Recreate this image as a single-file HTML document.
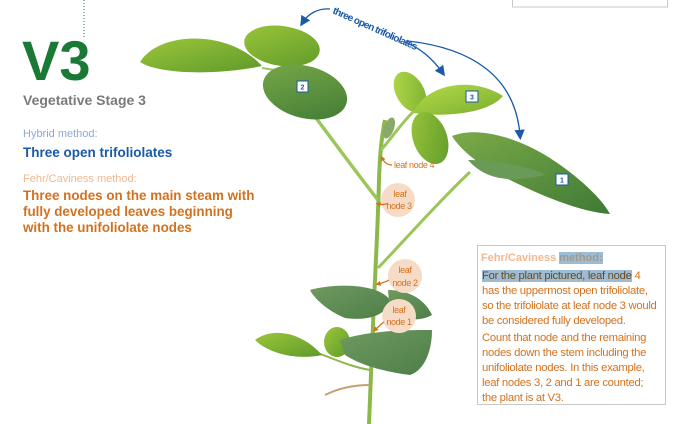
<!DOCTYPE html>
<html><head><meta charset="utf-8"><style>
html,body{margin:0;padding:0;background:#fff;}
body{width:683px;height:424px;position:relative;overflow:hidden;font-family:"Liberation Sans",sans-serif;}
.t{position:absolute;white-space:nowrap;}
.box{position:absolute;left:477px;top:245px;width:189px;height:160px;border:1px solid #c8c8c8;box-sizing:border-box;}
.bx{position:absolute;left:482px;font-size:11.3px;color:#d2721e;letter-spacing:-0.3px;white-space:nowrap;}
</style></head><body>
<svg width="683" height="424" style="position:absolute;left:0;top:0">
<defs>
<linearGradient id="g1" x1="0" y1="0" x2="1" y2="1"><stop offset="0" stop-color="#9cc63a"/><stop offset="1" stop-color="#5e9a2a"/></linearGradient>
<linearGradient id="g2" x1="0" y1="0" x2="1" y2="1"><stop offset="0" stop-color="#7aaa48"/><stop offset="1" stop-color="#3f7a35"/></linearGradient>
<linearGradient id="g3" x1="0" y1="0" x2="1" y2="1"><stop offset="0" stop-color="#b6dc4a"/><stop offset="1" stop-color="#79ad2e"/></linearGradient>
<linearGradient id="g4" x1="0" y1="0" x2="1" y2="1"><stop offset="0" stop-color="#6f9a60"/><stop offset="1" stop-color="#4e7e48"/></linearGradient>
<marker id="ab" markerWidth="8" markerHeight="8" refX="4" refY="4" orient="auto"><path d="M0,0 L8,4 L0,8 Z" fill="#1a5aa8"/></marker>
<marker id="ao" markerWidth="4" markerHeight="4" refX="2" refY="2" orient="auto"><path d="M0,0 L4,2 L0,4 Z" fill="#d2721e"/></marker>
</defs>
<line x1="84" y1="0" x2="84" y2="37" stroke="#1a7a35" stroke-width="1" stroke-dasharray="1,2"/>
<rect x="512.5" y="-5" width="155" height="12" fill="none" stroke="#c8c8c8"/>
<path d="M369,424 C371,380 372,340 374,300 C376,260 378,220 379,180 C380,150 382,135 385,120" stroke="#8cb84a" stroke-width="4" fill="none"/>
<path d="M316,118 C340,150 362,180 378,200" stroke="#9cc659" stroke-width="3.5" fill="none"/>
<path d="M470,172 C440,200 405,240 378,268" stroke="#9cc659" stroke-width="3" fill="none"/>
<path d="M413,112 C400,125 390,140 381,150" stroke="#9cc659" stroke-width="3" fill="none"/>
<path d="M262,68 L275,70" stroke="#9cc659" stroke-width="2"/>
<path d="M370,370 C340,365 320,350 300,350" stroke="#8cb84a" stroke-width="2" fill="none"/>
<path d="M370,385 C350,385 335,390 325,395" stroke="#c8a070" stroke-width="2" fill="none"/>
<path d="M140,62 C160,30 230,30 262,66 C220,75 160,75 140,62 Z" fill="url(#g1)"/>
<ellipse cx="282" cy="46" rx="38" ry="20" transform="rotate(8 282 46)" fill="url(#g1)"/>
<ellipse cx="305" cy="92" rx="43" ry="26" transform="rotate(15 305 92)" fill="url(#g2)"/>
<ellipse cx="410" cy="92" rx="14" ry="22" transform="rotate(-30 410 92)" fill="url(#g3)"/>
<path d="M413,113 C425,85 470,75 503,96 C490,112 450,118 413,113 Z" fill="url(#g3)"/>
<ellipse cx="430" cy="138" rx="17" ry="27" transform="rotate(-20 430 138)" fill="url(#g1)"/>
<ellipse cx="389" cy="128" rx="5" ry="11" transform="rotate(20 389 128)" fill="#8aa86a"/>
<path d="M452,136 C480,125 520,140 545,155 C570,170 600,195 610,214 C580,212 540,195 510,180 C485,170 460,150 452,136 Z" fill="url(#g2)"/>
<path d="M468,160 C500,160 540,170 545,175 C520,180 490,185 468,160 Z" fill="#6a9a58"/>
<path d="M310,290 C340,282 380,285 390,300 C385,320 360,320 345,318 C330,312 315,300 310,290 Z" fill="url(#g4)"/>
<path d="M388,290 C410,290 425,300 432,315 C420,322 400,320 390,315 Z" fill="url(#g4)"/>
<path d="M255,340 C270,328 300,330 322,355 C300,360 270,355 255,340 Z" fill="url(#g1)"/>
<ellipse cx="337" cy="342" rx="13" ry="15" fill="url(#g1)"/>
<path d="M340,340 C370,330 410,330 432,330 C432,350 425,370 410,375 C385,372 360,365 345,355 Z" fill="url(#g4)"/>
<path d="M330,9 C318,8 308,14 303,22" stroke="#1a5aa8" stroke-width="1.3" fill="none" marker-end="url(#ab)"/>
<path d="M405,42 C420,48 432,58 442,72" stroke="#1a5aa8" stroke-width="1.3" fill="none" marker-end="url(#ab)"/>
<path d="M408,41 C470,48 515,75 520,135" stroke="#1a5aa8" stroke-width="1.3" fill="none" marker-end="url(#ab)"/>
<text x="332" y="13" transform="rotate(24 332 13)" font-size="10" font-weight="bold" fill="#1a5aa8" letter-spacing="-0.7">three open trifoliolates</text>
<g font-size="7" font-weight="bold" fill="#1a5aa8" text-anchor="middle">
<rect x="297" y="81" width="11" height="11" fill="#fff" stroke="#1a5aa8"/><text x="302.5" y="89.5">2</text>
<rect x="466" y="91" width="12" height="11" fill="#fff" stroke="#1a5aa8"/><text x="472" y="99.5">3</text>
<rect x="556" y="174" width="12" height="11" fill="#fff" stroke="#1a5aa8"/><text x="562" y="182.5">1</text>
</g>
<circle cx="398" cy="200" r="17" fill="#f6dcc6"/>
<circle cx="405" cy="276" r="17" fill="#f6dcc6"/>
<circle cx="399" cy="316" r="17" fill="#f6dcc6"/>
<g font-size="9" fill="#d2721e" text-anchor="middle" letter-spacing="-0.4">
<text x="400" y="197">leaf</text><text x="399" y="209">node 3</text>
<text x="405" y="273">leaf</text><text x="405" y="286">node 2</text>
<text x="399" y="313">leaf</text><text x="399" y="325">node 1</text>
<text x="394" y="168" text-anchor="start">leaf node 4</text>
</g>
<path d="M392,165 C387,165 384,162 382,158" stroke="#d2721e" stroke-width="1.3" fill="none" marker-end="url(#ao)"/>
<path d="M388,203 C385,205 382,205 378,204" stroke="#d2721e" stroke-width="1.3" fill="none" marker-end="url(#ao)"/>
<path d="M389,280 C386,282 382,283 378,284" stroke="#d2721e" stroke-width="1.3" fill="none" marker-end="url(#ao)"/>
<path d="M384,322 C381,324 378,327 375,330" stroke="#d2721e" stroke-width="1.3" fill="none" marker-end="url(#ao)"/>
</svg>
<div class="t" style="left:22px;top:33px;font-size:56px;font-weight:bold;color:#1a7a35;line-height:56px;">V3</div>
<div class="t" style="left:23px;top:92px;font-size:14px;font-weight:bold;color:#7a7a7a;">Vegetative Stage 3</div>
<div class="t" style="left:23px;top:128px;font-size:11px;color:#8fa8d8;">Hybrid method:</div>
<div class="t" style="left:23px;top:145px;font-size:13.5px;font-weight:bold;color:#1a5aa8;">Three open trifoliolates</div>
<div class="t" style="left:23px;top:173px;font-size:11px;color:#f0b890;">Fehr/Caviness method:</div>
<div class="t" style="left:23px;top:188px;font-size:13.4px;font-weight:bold;color:#d2721e;line-height:16px;">Three nodes on the main steam with<br>fully developed leaves beginning<br>with the unifoliolate nodes</div>
<div class="box"></div>
<div class="t" style="left:481px;top:252px;font-size:11px;font-weight:bold;color:#f0b890;">Fehr/Caviness <span style="background:#9dbcd4;color:#a09a90;">method:</span></div>
<div class="bx" style="top:270px;"><span style="background:#9dbcd4;color:#6a4a20;">For the plant pictured, leaf node</span> 4</div>
<div class="bx" style="top:285px;">has the uppermost open trifoliolate,</div>
<div class="bx" style="top:300px;">so the trifoliolate at leaf node 3 would</div>
<div class="bx" style="top:315px;">be considered fully developed.</div>
<div class="bx" style="top:332px;">Count that node and the remaining</div>
<div class="bx" style="top:347px;">nodes down the stem including the</div>
<div class="bx" style="top:362px;">unifoliolate nodes. In this example,</div>
<div class="bx" style="top:377px;">leaf nodes 3, 2 and 1 are counted;</div>
<div class="bx" style="top:392px;">the plant is at V3.</div>
</body></html>
